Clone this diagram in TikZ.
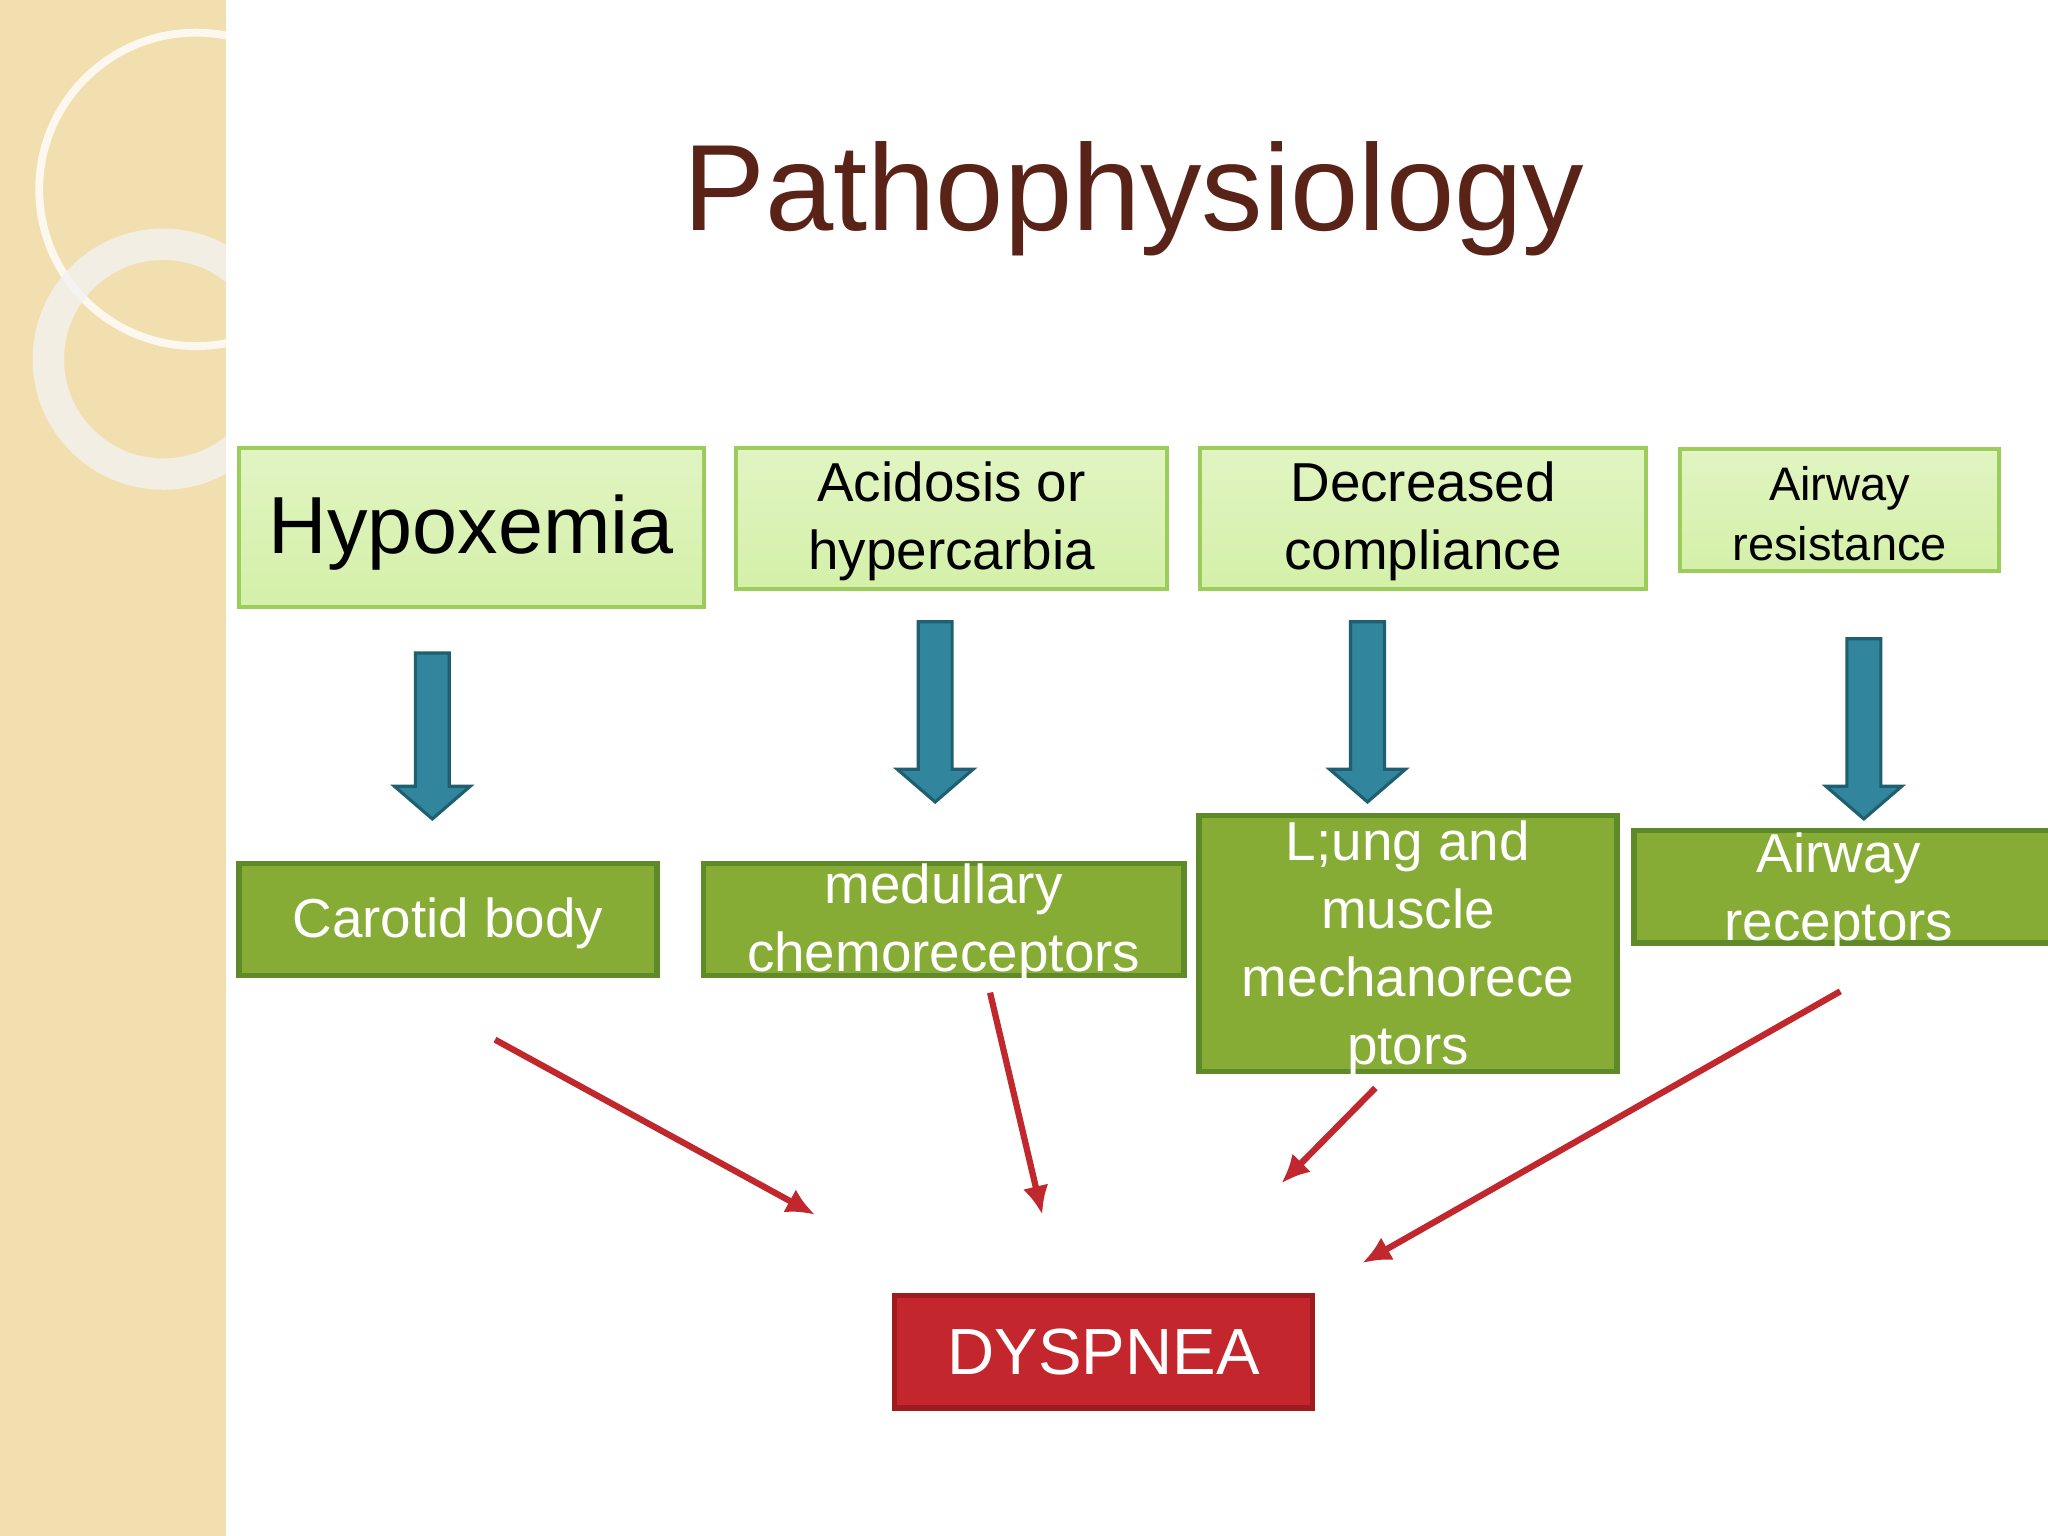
\documentclass[tikz,border=0pt]{standalone}
\usepackage{fontspec}
\setmainfont{Liberation Sans}
\usetikzlibrary{shadings,arrows.meta}
\definecolor{beige}{HTML}{F2DFB0}
\definecolor{brown}{HTML}{5A2318}
\definecolor{lgfill}{HTML}{D4F0A8}
\definecolor{lgedge}{HTML}{9CCC5C}
\definecolor{dgfill}{HTML}{86AC35}
\definecolor{dgedge}{HTML}{5F8A2A}
\definecolor{bl}{HTML}{31859C}
\definecolor{bledge}{HTML}{1F5F70}
\definecolor{rd}{HTML}{C0282D}
\definecolor{rdfill}{HTML}{C3262C}
\definecolor{rdedge}{HTML}{9E1C20}
\tikzset{
 light/.style={draw=lgedge,line width=1.5pt,top color=lgfill!70!white,bottom color=lgfill,align=center,text=black,font=\fontsize{21}{26}\selectfont},
 dark/.style={draw=dgedge,line width=2pt,fill=dgfill,align=center,text=white,font=\fontsize{21}{26}\selectfont},
 lbl/.style={align=center,inner sep=0pt},
 barrow/.style={fill=bl,draw=bledge,line width=1.2pt},
 rarrow/.style={draw=rd,line width=2.4pt,-{Latex[length=11pt,width=10pt]}},
}
\newcommand{\blockarrow}[3]{% x, ytop, ybot
 \draw[barrow] (#1-13,#2) -- (#1+13,#2) -- (#1+13,#3-25) -- (#1+29,#3-25) -- (#1,#3) -- (#1-29,#3-25) -- (#1-13,#3-25) -- cycle;}
\begin{document}
\begin{tikzpicture}[x=0.5pt,y=-0.5pt]
\useasboundingbox (0,0) rectangle (1568,1176);
\fill[white] (0,0) rectangle (1568,1176);
\fill[beige] (0,0) rectangle (173,1176);
\begin{scope}
\clip (0,0) rectangle (173,1176);
\draw[white,line width=3pt,opacity=0.8] (150,145) circle (120);
\draw[white!90!gray,line width=12pt,opacity=0.8] (125,275) circle (88);
\end{scope}
\node[text=brown,font=\fontsize{47}{52}\selectfont] (title) at (868,152) {Pathophysiology};
\node[light,minimum width=178pt,minimum height=61pt] (hyp) at (361,404) {};
\node[lbl,font=\fontsize{31}{36}\selectfont] (hypt) at (361,408) {Hypoxemia};
\node[light,minimum width=165pt,minimum height=54pt] (aci) at (728.5,397) {};
\node[lbl,font=\fontsize{21}{26}\selectfont] (acit) at (728.5,399) {Acidosis or\\hypercarbia};
\node[light,minimum width=171pt,minimum height=54pt] (dec) at (1089.5,397) {};
\node[lbl,font=\fontsize{21}{26}\selectfont] (dect) at (1089.5,399) {Decreased\\compliance};
\node[light,minimum width=122pt,minimum height=47pt] (awr) at (1408.5,390.5) {};
\node[lbl,font=\fontsize{18}{23}\selectfont] (awrt) at (1408.5,393) {Airway\\resistance};
\blockarrow{331}{500}{627}
\blockarrow{716}{476}{614}
\blockarrow{1047}{476}{614}
\blockarrow{1427}{489}{627}
\node[dark,minimum width=160pt,minimum height=43pt] (car) at (343,704) {};
\node[lbl,text=white,font=\fontsize{21}{26}\selectfont] (cart) at (343,707) {Carotid body};
\node[dark,minimum width=184pt,minimum height=43pt] (med) at (722.5,704) {};
\node[lbl,text=white,font=\fontsize{21}{26}\selectfont] (medt) at (722.5,707) {medullary\\chemoreceptors};
\node[dark,minimum width=160pt,minimum height=98pt] (lung) at (1078,722.5) {};
\node[lbl,text=white,font=\fontsize{21}{26}\selectfont] (lungt) at (1078,726) {L;ung and\\muscle\\mechanorece\\ptors};
\node[dark,minimum width=164pt,minimum height=43pt,anchor=west] (awrc) at (1249,679) {};
\node[lbl,text=white,font=\fontsize{21}{26}\selectfont] (awrct) at (1408,683) {Airway\\receptors};
\node[draw=rdedge,line width=2pt,fill=rdfill,text=white,minimum width=160pt,minimum height=43pt,font=\fontsize{25}{30}\selectfont] (dys) at (845,1035) {DYSPNEA};
\coordinate (a1) at (379,796); \coordinate (b1) at (624,930);
\coordinate (a2) at (758,760); \coordinate (b2) at (798,930);
\coordinate (a3) at (1053,833); \coordinate (b3) at (981,906);
\coordinate (a4) at (1409,759); \coordinate (b4) at (1043,967);
\draw[rarrow] (a1) -- (b1);
\draw[rarrow] (a2) -- (b2);
\draw[rarrow] (a3) -- (b3);
\draw[rarrow] (a4) -- (b4);
\end{tikzpicture}
\end{document}
